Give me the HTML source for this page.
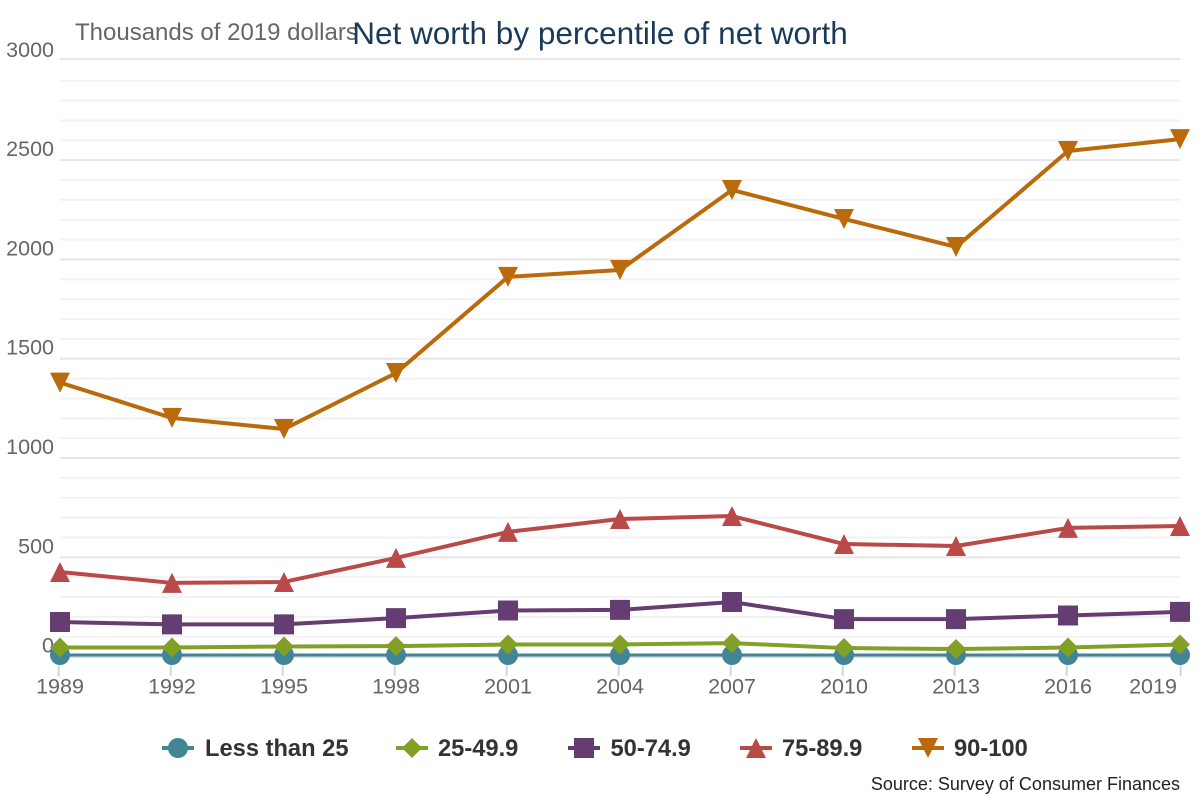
<!DOCTYPE html>
<html lang="en">
<head>
<meta charset="utf-8">
<title>Net worth by percentile of net worth</title>
<style>
html,body{margin:0;padding:0;background:#fff;}
svg{display:block;font-family:"Liberation Sans",Arial,sans-serif;}
</style>
</head>
<body>
<svg id="chart" width="1200" height="800" viewBox="0 0 1200 800" xmlns="http://www.w3.org/2000/svg">
<rect x="0" y="0" width="1200" height="800" fill="#ffffff"/>
<g id="grid"></g>
<g id="xaxis"></g>
<g id="yaxis"></g>
<g id="series"></g>
<text x="75" y="40" font-size="24" fill="#666666">Thousands of 2019 dollars</text>
<text x="600" y="44" font-size="31.5" fill="#1a3a5a" text-anchor="middle">Net worth by percentile of net worth</text>
<g id="legend"></g>
<text x="1180" y="790" font-size="18" fill="#222222" text-anchor="end">Source: Survey of Consumer Finances</text>
</svg>
<script>
const years = [1989, 1992, 1995, 1998, 2001, 2004, 2007, 2010, 2013, 2016, 2019];
const yTicks = [0, 500, 1000, 1500, 2000, 2500, 3000];
const seriesNames = ['Less than 25', '25-49.9', '50-74.9', '75-89.9', '90-100'];
const lessThan25 = [8, 8, 8, 8, 8, 8, 8, 8, 8, 8, 8];
const p25to49 = [46, 46, 51, 53, 61, 61, 68, 43, 38, 46, 61];
const p50to74 = [174, 162, 162, 194, 232, 235, 275, 189, 189, 207, 225];
const p75to89 = [426, 371, 376, 497, 628, 693, 708, 567, 557, 648, 658];
const p90to100 = [1380, 1202, 1146, 1428, 1912, 1947, 2350, 2204, 2063, 2546, 2606];

const NS = 'http://www.w3.org/2000/svg';
const colors = ['#418596', '#82a025', '#663d72', '#b94a48', '#bb6a0b'];
const shapes = ['circle', 'diamond', 'square', 'triangle', 'triangle-down'];
const allValues = [lessThan25, p25to49, p50to74, p75to89, p90to100];
const widths = [3, 4, 4, 4, 4];

function xScale(year) {
  return 60 + (year - years[0]) / (years[years.length - 1] - years[0]) * 1120;
}
function yScale(v) {
  return 656.6 - v * 0.19857;
}
function make(tag, attrs, parent) {
  const el = document.createElementNS(NS, tag);
  for (const k in attrs) el.setAttribute(k, attrs[k]);
  parent.appendChild(el);
  return el;
}
function marker(shape, cx, cy, color, parent) {
  if (shape === 'circle') {
    return make('circle', { cx: cx, cy: cy, r: 10, fill: color }, parent);
  }
  let pts;
  if (shape === 'diamond') {
    pts = [[cx, cy - 10], [cx + 10, cy], [cx, cy + 10], [cx - 10, cy]];
  } else if (shape === 'square') {
    pts = [[cx - 10, cy - 10], [cx + 10, cy - 10], [cx + 10, cy + 10], [cx - 10, cy + 10]];
  } else if (shape === 'triangle') {
    pts = [[cx, cy - 10], [cx + 10, cy + 10], [cx - 10, cy + 10]];
  } else {
    pts = [[cx - 10, cy - 10], [cx + 10, cy - 10], [cx, cy + 10]];
  }
  return make('polygon', { points: pts.map(p => p.join(',')).join(' '), fill: color }, parent);
}

const grid = document.getElementById('grid');
for (let v = 100; v <= 3000; v += 100) {
  const major = v % 500 === 0;
  const gy = yScale(v) + (v === 3000 ? -1.8 : 0);
  const line = make('line', {
    x1: 60, x2: 1180, y1: gy, y2: gy,
    stroke: major ? '#e6e6e6' : '#f2f2f2', 'stroke-width': 2
  }, grid);
  
  
}

const xaxis = document.getElementById('xaxis');
const axisLine = make('line', {
  x1: 60, x2: 1180, y1: yScale(0), y2: yScale(0), stroke: '#ccd6eb', 'stroke-width': 2
}, xaxis);


years.forEach(function (yr, i) {
  const px = xScale(yr);
  const isLast = i === years.length - 1;
  const tx = isLast ? px + 0.7 : px - 1.3;
  const tick = make('line', {
    x1: tx, x2: tx, y1: yScale(0), y2: 676, stroke: '#ccd6eb', 'stroke-width': 2
  }, xaxis);
  
  
  const label = make('text', {
    x: isLast ? 1153 : px, y: 693.5, 'font-size': 21.5, fill: '#666666', 'text-anchor': 'middle'
  }, xaxis);
  label.textContent = yr;
  
  
});

const yaxis = document.getElementById('yaxis');
yTicks.forEach(function (v) {
  const label = make('text', {
    x: 54, y: yScale(v) - 4, 'font-size': 21.5, fill: '#666666', 'text-anchor': 'end'
  }, yaxis);
  label.textContent = v;
  
  
});

const seriesRoot = document.getElementById('series');
allValues.forEach(function (vals, s) {
  const g = make('g', {}, seriesRoot);
  
  
  const pts = vals.map(function (v, i) { return xScale(years[i]) + ',' + yScale(v); }).join(' ');
  const line = make('polyline', {
    points: pts, fill: 'none', stroke: colors[s], 'stroke-width': widths[s], 'stroke-linejoin': 'round'
  }, g);
  
  
  vals.forEach(function (v, i) {
    const m = marker(shapes[s], xScale(years[i]), yScale(v), colors[s], g);
    
    
  });
});

const legendLineX = [162, 396, 568, 740, 912];
const legendTextX = [205, 438, 610.5, 782, 954];
const legend = document.getElementById('legend');
seriesNames.forEach(function (name, s) {
  const g = make('g', {}, legend);
  
  
  g.style.cursor = 'pointer';
  const line = make('line', {
    x1: legendLineX[s], x2: legendLineX[s] + 32, y1: 748, y2: 748, stroke: colors[s], 'stroke-width': 4
  }, g);
  
  
  const m = marker(shapes[s], legendLineX[s] + 16, 748, colors[s], g);
  
  
  const t = make('text', {
    x: legendTextX[s], y: 756, 'font-size': 23.7, 'font-weight': 'bold', fill: '#333333'
  }, g);
  t.textContent = name;
  
  
});
</script>
</body>
</html>
